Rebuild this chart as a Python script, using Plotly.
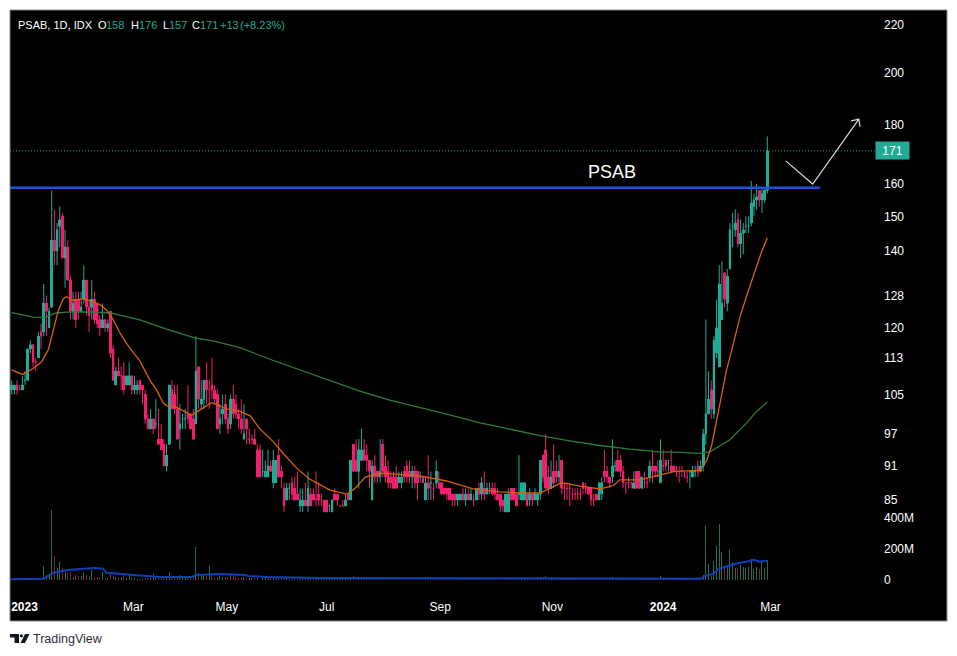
import plotly.graph_objects as go

# Daily PSAB bars, 2 Jan 2023 to 1 Mar 2024, one row of ten per line
opens = [
    106, 106, 107, 106, 106, 108, 108, 115, 116, 112,
    113, 119, 119, 126, 120, 125, 143, 140, 147, 150,
    138, 141, 132, 124, 127, 127, 124, 127, 132, 125,
    125, 127, 126, 122, 120, 122, 120, 124, 115, 107,
    110, 109, 109, 107, 107, 109, 106, 106, 108, 107,
    105, 100, 98, 100, 99, 96, 96, 95, 91, 95,
    106, 105, 102, 98, 100, 100, 101, 101, 100, 99,
    111, 103, 104, 108, 106, 107, 106, 105, 99, 101,
    103, 100, 99, 104, 103, 101, 100, 96, 100, 96,
    96, 96, 94, 94, 90, 89, 89, 91, 88, 88,
    93, 90, 87, 85, 87, 88, 87, 86, 84, 84,
    85, 84, 86, 86, 85, 86, 85, 85, 85, 84,
    83, 86, 86, 84, 84, 84, 86, 85, 95, 92,
    90, 92, 94, 93, 92, 85, 91, 90, 89, 95,
    91, 90, 89, 89, 89, 88, 88, 90, 91, 90,
    89, 90, 90, 89, 89, 85, 88, 88, 87, 88,
    88, 88, 87, 87, 87, 86, 86, 85, 85, 86,
    85, 86, 85, 85, 85, 87, 86, 87, 86, 87,
    87, 87, 86, 86, 85, 83, 83, 87, 87, 86,
    86, 85, 85, 86, 85, 86, 85, 85, 86, 93,
    94, 89, 87, 90, 90, 89, 92, 87, 87, 87,
    86, 86, 86, 86, 88, 87, 87, 87, 85, 86,
    85, 86, 90, 90, 89, 89, 91, 92, 92, 90,
    88, 88, 88, 87, 90, 90, 87, 88, 88, 89,
    91, 91, 90, 88, 91, 92, 92, 91, 91, 90,
    90, 90, 89, 89, 90, 89, 90, 91, 90, 91,
    97, 101, 106, 101, 114, 111, 122, 134, 126, 135,
    147, 146, 149, 142, 145, 147, 147, 148, 153, 155,
    158, 155, 155, 158,
]
highs = [
    108, 107, 108, 107, 109, 110, 115, 117, 116, 113,
    119, 121, 131, 128, 125, 158, 152, 148, 153, 151,
    146, 143, 133, 129, 129, 129, 129, 136, 132, 127,
    132, 129, 126, 123, 126, 122, 122, 124, 116, 111,
    113, 111, 112, 109, 112, 109, 109, 108, 108, 107,
    106, 101, 102, 100, 104, 102, 99, 96, 95, 107,
    108, 107, 107, 103, 101, 102, 107, 101, 102, 118,
    111, 108, 108, 112, 108, 113, 107, 106, 103, 105,
    105, 101, 105, 107, 105, 102, 104, 103, 100, 98,
    97, 98, 95, 95, 94, 92, 94, 92, 94, 92,
    96, 91, 88, 88, 88, 89, 89, 90, 87, 87,
    88, 90, 87, 87, 90, 88, 86, 85, 85, 84,
    85, 87, 86, 84, 85, 86, 86, 92, 95, 96,
    96, 98, 96, 95, 92, 92, 93, 90, 96, 96,
    93, 92, 90, 90, 91, 90, 90, 91, 92, 92,
    91, 91, 90, 90, 89, 89, 93, 90, 88, 92,
    90, 88, 87, 87, 87, 86, 86, 86, 86, 87,
    87, 87, 87, 86, 87, 88, 89, 90, 88, 88,
    88, 88, 87, 86, 85, 86, 87, 87, 87, 86,
    93, 88, 88, 86, 87, 86, 87, 86, 92, 93,
    97, 91, 92, 95, 92, 93, 92, 88, 88, 88,
    87, 87, 87, 87, 88, 88, 87, 87, 86, 86,
    88, 89, 94, 91, 89, 96, 92, 94, 93, 91,
    88, 89, 88, 90, 90, 90, 89, 90, 89, 92,
    94, 91, 92, 96, 94, 92, 92, 94, 91, 91,
    91, 91, 90, 90, 90, 91, 91, 92, 92, 98,
    122, 110, 108, 118, 127, 136, 137, 134, 135, 148,
    151, 152, 151, 149, 148, 150, 150, 161, 157, 160,
    158, 159, 159, 176,
]
lows = [
    105, 105, 105, 106, 106, 107, 108, 114, 111, 110,
    113, 115, 118, 118, 120, 125, 136, 136, 141, 138,
    130, 132, 122, 122, 120, 122, 124, 126, 123, 119,
    122, 121, 120, 118, 120, 119, 119, 113, 108, 107,
    109, 106, 105, 107, 107, 105, 105, 105, 105, 103,
    99, 98, 98, 97, 98, 95, 94, 91, 90, 95,
    102, 101, 96, 94, 98, 98, 99, 98, 96, 99,
    102, 102, 102, 103, 102, 104, 103, 98, 97, 99,
    99, 97, 98, 100, 100, 98, 97, 96, 95, 95,
    95, 95, 89, 89, 89, 89, 89, 90, 87, 88,
    89, 87, 83, 85, 85, 85, 85, 85, 83, 83,
    84, 83, 84, 85, 84, 84, 84, 83, 83, 83,
    83, 85, 84, 84, 84, 84, 85, 85, 90, 90,
    87, 92, 92, 90, 87, 85, 88, 88, 88, 89,
    88, 87, 87, 87, 87, 88, 87, 88, 88, 88,
    87, 87, 85, 88, 88, 85, 85, 85, 85, 87,
    87, 86, 86, 85, 85, 84, 84, 84, 85, 85,
    84, 85, 85, 84, 85, 85, 85, 85, 86, 86,
    86, 85, 85, 83, 83, 83, 83, 85, 85, 84,
    85, 85, 85, 84, 84, 84, 85, 84, 85, 88,
    87, 86, 87, 87, 88, 88, 86, 85, 85, 84,
    85, 85, 85, 85, 86, 86, 86, 84, 84, 85,
    85, 85, 88, 88, 87, 88, 90, 90, 89, 87,
    86, 87, 87, 87, 87, 87, 87, 87, 87, 88,
    88, 89, 89, 88, 90, 90, 90, 90, 90, 89,
    88, 89, 89, 88, 87, 89, 89, 89, 90, 90,
    95, 101, 100, 100, 113, 111, 122, 125, 124, 135,
    141, 144, 141, 138, 139, 145, 145, 147, 150, 152,
    153, 151, 154, 157,
]
closes = [
    107, 107, 106, 106, 107, 108, 115, 116, 112, 112,
    118, 118, 126, 124, 124, 143, 140, 146, 149, 138,
    141, 132, 124, 126, 122, 124, 125, 132, 125, 123,
    127, 122, 121, 120, 122, 120, 121, 114, 108, 110,
    109, 109, 106, 109, 109, 106, 107, 107, 106, 106,
    100, 98, 100, 98, 99, 95, 94, 91, 93, 107,
    102, 102, 96, 99, 100, 100, 100, 98, 96, 110,
    104, 104, 108, 106, 106, 106, 104, 98, 100, 102,
    100, 98, 104, 101, 101, 100, 98, 97, 98, 96,
    96, 95, 89, 89, 90, 90, 91, 90, 92, 92,
    89, 89, 84, 87, 87, 86, 85, 85, 85, 85,
    84, 87, 84, 85, 85, 85, 85, 83, 83, 84,
    85, 85, 85, 84, 84, 85, 85, 92, 90, 90,
    94, 94, 92, 92, 90, 91, 89, 89, 90, 90,
    89, 88, 88, 87, 87, 89, 89, 89, 89, 89,
    90, 88, 88, 89, 88, 88, 87, 88, 87, 90,
    87, 86, 86, 86, 85, 85, 85, 86, 86, 85,
    86, 85, 86, 85, 87, 86, 88, 86, 87, 87,
    86, 86, 85, 84, 84, 86, 86, 85, 85, 84,
    86, 88, 88, 84, 86, 85, 86, 86, 92, 89,
    87, 87, 89, 88, 89, 90, 87, 87, 87, 87,
    86, 86, 86, 86, 87, 87, 86, 85, 85, 85,
    88, 88, 89, 89, 88, 91, 91, 90, 90, 88,
    88, 88, 88, 88, 87, 87, 89, 88, 88, 91,
    90, 90, 90, 92, 91, 91, 92, 90, 90, 90,
    90, 90, 89, 89, 90, 90, 90, 90, 91, 97,
    101, 104, 102, 117, 120, 131, 126, 127, 133, 146,
    147, 148, 142, 145, 146, 147, 147, 154, 155, 156,
    155, 157, 158, 171,
]
# Volume in millions of shares
volumes = [
    8, 7, 8, 6, 12, 7, 8, 6, 7, 8,
    10, 9, 90, 32, 25, 452, 155, 75, 116, 75,
    54, 43, 54, 17, 32, 26, 26, 54, 32, 26,
    65, 21, 21, 17, 54, 13, 13, 54, 32, 21,
    17, 17, 32, 13, 32, 10, 12, 9, 8, 10,
    11, 10, 12, 43, 13, 15, 12, 11, 18, 52,
    20, 15, 14, 32, 12, 11, 13, 12, 14, 212,
    43, 32, 32, 25, 90, 30, 22, 20, 24, 22,
    20, 18, 43, 25, 18, 16, 14, 20, 15, 13,
    12, 11, 12, 14, 13, 11, 10, 12, 13, 11,
    12, 10, 14, 10, 9, 11, 10, 9, 12, 9,
    10, 17, 10, 9, 11, 10, 9, 8, 9, 10,
    9, 10, 8, 7, 9, 10, 8, 22, 24, 18,
    20, 18, 15, 13, 11, 16, 12, 10, 18, 14,
    12, 11, 10, 9, 11, 10, 9, 10, 11, 9,
    10, 12, 9, 8, 10, 14, 12, 10, 9, 11,
    10, 8, 7, 8, 9, 8, 7, 9, 8, 7,
    8, 9, 8, 7, 9, 8, 11, 9, 8, 7,
    8, 9, 8, 9, 8, 10, 11, 8, 7, 9,
    10, 11, 9, 8, 7, 8, 7, 8, 22, 20,
    26, 15, 16, 14, 13, 12, 14, 10, 9, 8,
    9, 8, 7, 8, 9, 8, 7, 9, 8, 9,
    10, 12, 14, 11, 10, 19, 13, 14, 12, 10,
    9, 8, 7, 10, 11, 10, 9, 8, 7, 11,
    14, 10, 9, 24, 13, 10, 9, 12, 8, 7,
    8, 7, 8, 7, 9, 8, 8, 10, 9, 34,
    348, 103, 26, 123, 219, 361, 183, 77, 97, 193,
    116, 77, 77, 97, 81, 75, 81, 133, 73, 86,
    73, 123, 75, 129,
]

# Moving averages, read at selected bars
fast_ma_bars = [0, 4, 8, 11.2, 13.7, 15.6, 17.5, 19.3, 20.6, 23, 26.8, 29.3, 33, 35.6, 38, 40.6, 43, 45.6,
                48, 51.8, 54.3, 56.8, 58, 61.8, 67.4, 70.5, 74.9, 80.5, 85.5, 89.3, 93, 98, 100.5, 106.7,
                111.7, 119.2, 125.5, 128.6, 132.4, 138, 145.4, 152.9, 162.9, 172.8, 182.9, 190.4, 197.9,
                206, 212.9, 220.3, 225.3, 227.8, 235.3, 242.8, 248.4, 257.8, 260.3, 262.2, 264, 265.9,
                267.8, 269.7, 271, 272.8, 275.3, 278.4, 280.9, 283]
fast_ma = [110.3, 109.3, 110.6, 112.1, 114.8, 119.5, 124.3, 127.2, 127.7, 126.8, 127.2, 126.6, 125.7, 124.3,
           122, 118.7, 116.3, 114.1, 112.3, 108, 105.9, 103.2, 102.7, 102.3, 100.7, 101.8, 103.3, 102, 101.5,
           100.6, 98, 95.5, 94, 90.6, 88.6, 86.7, 86, 87, 89, 89.7, 89.5, 89.2, 88.3, 86.9, 86.4, 86.2, 86.2,
           88, 87.4, 86.9, 87.5, 88.5, 88.5, 89.3, 90, 90.2, 92, 94.9, 99.6, 104.5, 110.4, 114.8, 117.9,
           122.7, 128, 134.7, 139.8, 143.7]
slow_ma_bars = [0, 8, 12.5, 16.6, 20.7, 29, 37, 48, 58, 68.6, 75.4, 85.5, 97.5, 108, 119, 130.4, 141.6, 152.9,
                164, 175.4, 186.6, 197.9, 209, 220.3, 231.6, 242.8, 250.3, 257.8, 261.5, 265.3, 269, 275.3,
                278.8, 283]
slow_ma = [123.7, 122.6, 122.5, 123.6, 123.8, 123.9, 123.6, 121.9, 119.7, 117.6, 116.9, 115.3, 112.5, 110.3,
           107.9, 105.7, 103.8, 102.3, 100.8, 99.2, 98, 96.7, 95.7, 94.8, 94.1, 93.6, 93.5, 93.3, 93.6, 94.8,
           95.9, 99.2, 101.4, 103.4]
vol_ma_bars = [0, 12, 15.6, 21, 26, 31, 34, 35.6, 41, 47.5, 55, 67.5, 69, 77, 87.5, 88.5, 95.5, 115.5, 180,
               258, 259.7, 262.8, 264.7, 267.8, 270.9, 275, 278, 280, 283]
vol_ma = [5, 8, 47, 65, 71, 77, 74, 47, 39, 28, 19, 19, 32, 39, 33, 26, 19, 13, 12, 8, 26, 39, 71, 90, 105,
          118, 131, 118, 125]

# Drawing tools placed on the chart
resistance_level = 158.8
resistance_bars = [-0.6, 302.7]
last_close = 171
last_close_bars = [-0.6, 323.3]
path_bars = [289.9, 300, 317.3, 314.4, 317.3, 317.7]
path_prices = [167.6, 160, 182.2, 181.6, 182.2, 179.4]

price_ticks = [85, 91, 97, 105, 113, 120, 128, 140, 150, 160, 180, 200, 220]
volume_ticks = [0, 200, 400]
volume_tick_labels = ["0", "200M", "400M"]
date_ticks = [4.8, 45.6, 80.6, 118, 160.5, 202.5, 244, 284.2]
date_labels = ["<b>2023</b>", "Mar", "May", "Jul", "Sep", "Nov", "<b>2024</b>", "Mar"]

TEAL = "#22ab94"
PINK = "#f0206e"
FONT = "Liberation Sans"
PANEL = dict(left=10, right=947, top=10, bottom=621)


def paper_x(px):
    return (px - PANEL["left"]) / (PANEL["right"] - PANEL["left"])


def paper_y(py):
    return (PANEL["bottom"] - py) / (PANEL["bottom"] - PANEL["top"])


bars = list(range(len(closes)))
body_base = [min(o, c) for o, c in zip(opens, closes)]
body_size = [abs(c - o) for o, c in zip(opens, closes)]
body_colors = [TEAL if c >= o else PINK for o, c in zip(opens, closes)]
volume_colors = ["#2b6b54" if c >= o else "#7a263e" for o, c in zip(opens, closes)]

fig = go.Figure()

fig.add_trace(go.Bar(x=bars, y=volumes, width=0.37, marker=dict(color=volume_colors, line_width=0),
                     yaxis="y", hoverinfo="skip"))
fig.add_trace(go.Scatter(x=vol_ma_bars, y=vol_ma, mode="lines", line=dict(color="#0d3fb8", width=2),
                         yaxis="y", hoverinfo="skip"))
# Wicks come from the candlestick trace, the wider bodies from a bar trace on the same price axis
fig.add_trace(go.Candlestick(
    x=bars, open=opens, high=highs, low=lows, close=closes, yaxis="y2", whiskerwidth=0,
    increasing=dict(line=dict(color=TEAL, width=1), fillcolor=TEAL),
    decreasing=dict(line=dict(color=PINK, width=1), fillcolor=PINK),
    hoverinfo="skip",
))
fig.add_trace(go.Bar(x=bars, y=body_size, base=body_base, width=1.0, yaxis="y2",
                     marker=dict(color=body_colors, line_width=0), hoverinfo="skip"))
fig.add_trace(go.Scatter(x=slow_ma_bars, y=slow_ma, mode="lines", line=dict(color="#2e7d3a", width=1.3),
                         yaxis="y2", hoverinfo="skip"))
fig.add_trace(go.Scatter(x=fast_ma_bars, y=fast_ma, mode="lines", line=dict(color="#d9600f", width=1.3),
                         yaxis="y2", hoverinfo="skip"))
fig.add_trace(go.Scatter(x=last_close_bars, y=[last_close, last_close], mode="lines",
                         line=dict(color=TEAL, width=1, dash="1px 2px"), yaxis="y2", hoverinfo="skip"))
fig.add_trace(go.Scatter(x=resistance_bars, y=[resistance_level, resistance_level], mode="lines",
                         line=dict(color="#2050e0", width=2.4), yaxis="y2", hoverinfo="skip"))
fig.add_trace(go.Scatter(x=path_bars, y=path_prices, mode="lines", line=dict(color="#d8d8d8", width=1.2),
                         yaxis="y2", hoverinfo="skip"))

notes = []


def note(text, px, py, color="#ffffff", size=11, anchor="left", **extra):
    # Annotations carry about 2px of padding, taken off left-aligned text
    left = px - 2 if anchor == "left" else px
    notes.append(dict(text=text, x=paper_x(left), y=paper_y(py), xref="paper", yref="paper",
                      xanchor=anchor, yanchor="middle", showarrow=False,
                      font=dict(family=FONT, size=size, color=color), **extra))


# Symbol header across the top of the panel
note("PSAB, 1D, IDX", 18, 25)
for label, value, label_x, value_x in [("O", "158", 97.5, 106), ("H", "176", 131, 139),
                                        ("L", "157", 163, 169), ("C", "171", 192, 200)]:
    note(label, label_x, 25)
    note(value, value_x, 25, TEAL)
note("+13", 220, 25, TEAL)
note("(+8.23%)", 240, 25, TEAL)

note("PSAB", 612, 172, size=18, anchor="center")
note("171", 892, 150.5, size=12, anchor="center", bgcolor=TEAL, width=31, height=15)
note("TradingView", 33, 639, "#2a2e39", size=12.5)

logo_t = ("M{} {} L{} {} L{} {} L{} {} L{} {} L{} {} Z".format(
    paper_x(10), paper_y(634), paper_x(19), paper_y(634), paper_x(19), paper_y(643),
    paper_x(14.5), paper_y(643), paper_x(14.5), paper_y(637.5), paper_x(10), paper_y(637.5)))
logo_slash = ("M{} {} L{} {} L{} {} L{} {} Z".format(
    paper_x(25), paper_y(634), paper_x(29.5), paper_y(634), paper_x(25), paper_y(643), paper_x(20.5), paper_y(643)))

fig.update_layout(
    width=957, height=656,
    margin=dict(l=PANEL["left"], r=957 - PANEL["right"], t=PANEL["top"], b=656 - PANEL["bottom"], pad=0),
    paper_bgcolor="#ffffff", plot_bgcolor="#000000",
    showlegend=False, bargap=0, barmode="overlay", dragmode=False,
    font=dict(family=FONT, size=12, color="#ffffff"),
    xaxis=dict(range=[-0.63, 350.3], tickmode="array", tickvals=date_ticks, ticktext=date_labels,
               showgrid=False, zeroline=False, ticks="", anchor="free", position=paper_y(598),
               showline=False, rangeslider=dict(visible=False), tickangle=0,
               tickfont=dict(family=FONT, size=12, color="#ffffff")),
    yaxis=dict(range=[-264.5, 3677], tickmode="array", tickvals=volume_ticks, ticktext=volume_tick_labels,
               showgrid=False, zeroline=False, ticks="", anchor="free", position=paper_x(883), side="right",
               showline=False, tickfont=dict(family=FONT, size=12, color="#ffffff")),
    yaxis2=dict(type="log", range=[1.82423, 2.35545], tickmode="array", tickvals=price_ticks,
                ticktext=[str(t) for t in price_ticks], overlaying="y", showgrid=False, zeroline=False,
                ticks="", anchor="free", position=paper_x(883), side="right", showline=False,
                tickfont=dict(family=FONT, size=12, color="#ffffff")),
    annotations=notes,
    shapes=[
        dict(type="rect", xref="paper", yref="paper", x0=0, x1=1, y0=0, y1=1,
             line=dict(color="#8a8a8a", width=1), fillcolor="rgba(0,0,0,0)", layer="above"),
        dict(type="path", xref="paper", yref="paper", path=logo_t, fillcolor="#131722", line_width=0),
        dict(type="path", xref="paper", yref="paper", path=logo_slash, fillcolor="#131722", line_width=0),
        dict(type="circle", xref="paper", yref="paper", x0=paper_x(19.7), x1=paper_x(23), y0=paper_y(637.5),
             y1=paper_y(634.2), fillcolor="#131722", line_width=0),
    ],
)

fig.write_html("out.html", config=dict(displayModeBar=False, staticPlot=True))
